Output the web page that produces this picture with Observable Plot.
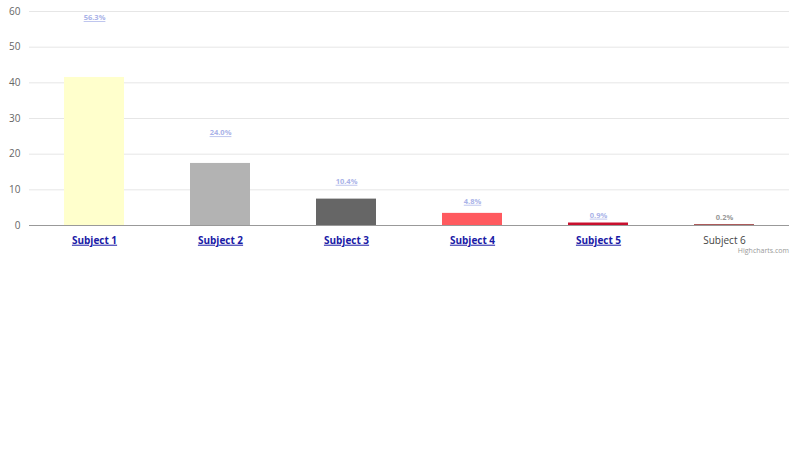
<!DOCTYPE html>
<html>
<head>
<meta charset="utf-8">
<script src="https://cdn.jsdelivr.net/npm/d3@7"></script>
<script src="https://cdn.jsdelivr.net/npm/@observablehq/plot@0.6"></script>
<style>
  html, body { margin: 0; padding: 0; background: #fff; }
  #chart { position: relative; width: 800px; height: 450px; font-family: "Open Sans", "Noto Sans", sans-serif; }
  .credit { position: absolute; right: 11px; top: 246px; font-size: 7px; color: #999; }
</style>
</head>
<body>
<div id="chart"></div>
<script>
const categories = ["Subject 1", "Subject 2", "Subject 3", "Subject 4", "Subject 5", "Subject 6"];
const values = [41.5, 17.4, 7.4, 3.4, 0.7, 0.2];
const percents = [56.3, 24.0, 10.4, 4.8, 0.9, 0.2];
const colors = ["#ffffcc", "#b3b3b3", "#666666", "#ff5a5f", "#c8102e", "#8b1a1a"];
const linked = [true, true, true, true, true, false];
const yTicks = [0, 10, 20, 30, 40, 50, 60];

const data = categories.map((c, i) => ({cat: c, value: values[i], pct: percents[i], color: colors[i], linked: linked[i]}));

const plot = Plot.plot({
  width: 800,
  height: 260,
  marginLeft: 29,
  marginRight: 11,
  marginTop: 11,
  marginBottom: 35,
  style: {fontFamily: '"Open Sans", "Noto Sans", sans-serif', background: "#fff"},
  x: {domain: categories, paddingInner: 0.52, paddingOuter: 0.26, axis: null},
  y: {domain: [0, 60], ticks: yTicks, axis: null},
  marks: [
    Plot.gridY(yTicks.slice(1), {stroke: "#e6e6e6", strokeOpacity: 1}),
    Plot.axisY(yTicks, {tickSize: 0, tickPadding: 9, fontSize: 10, fill: "#666", textAnchor: "end", label: null}),
    Plot.barY(data, {x: "cat", y: "value", fill: "color"}),
    Plot.ruleY([0], {stroke: "#999", strokeWidth: 1.2}),
    Plot.text(data, {x: "cat", y: "pct", text: d => d.pct.toFixed(1) + "%", dy: -7, fontSize: 7.5,
      fill: d => d.linked ? "#aab3e8" : "#999", className: "pctlabels"}),
    Plot.text(data, {x: "cat", y: 0, text: "cat", dy: 15, fontSize: 10,
      fill: d => d.linked ? "#1a1aa6" : "#444", className: "xlabels"})
  ]
});

const root = document.getElementById("chart");
root.appendChild(plot);

const textGroups = d3.select(plot).selectAll('g[aria-label="text"]').nodes();
const pctG = textGroups[textGroups.length - 2];
const xG = textGroups[textGroups.length - 1];
d3.select(xG).selectAll("text")
  .style("text-decoration", (d, i) => linked[i] ? "underline" : "none")
  .style("font-weight", (d, i) => linked[i] ? "bold" : "normal");
d3.select(pctG).selectAll("text")
  .style("text-decoration", (d, i) => linked[i] ? "underline" : "none")
  .style("font-weight", "bold");

const credit = document.createElement("div");
credit.className = "credit";
credit.textContent = "Highcharts.com";
root.appendChild(credit);
</script>
</body>
</html>
